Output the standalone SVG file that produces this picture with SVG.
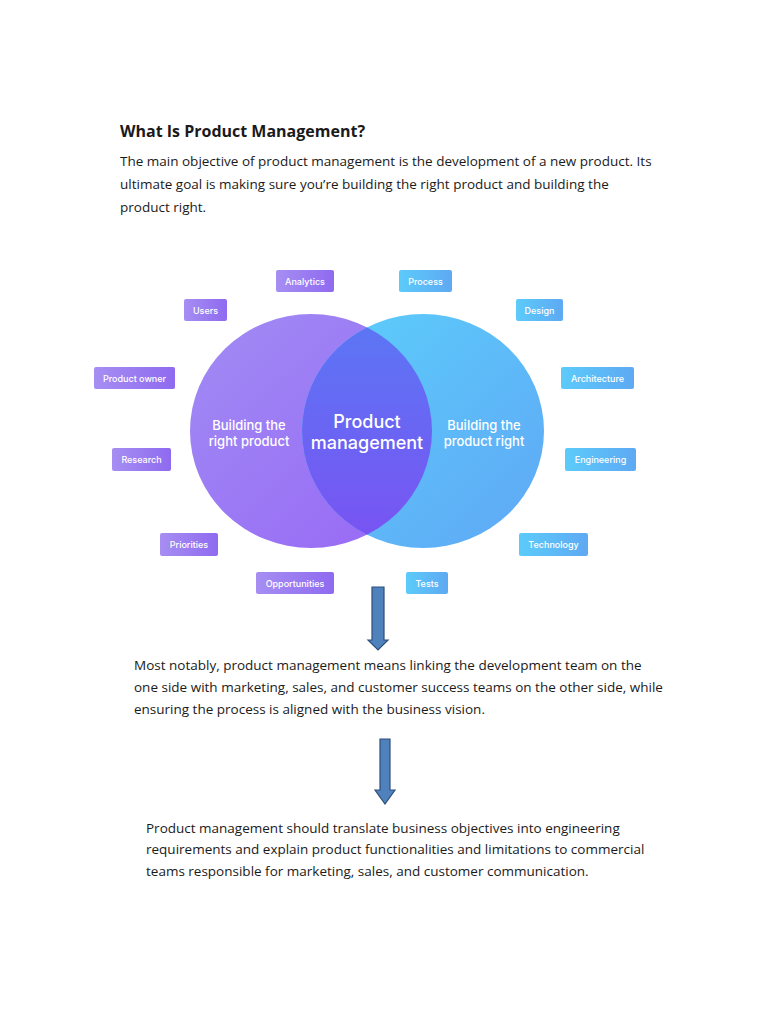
<svg xmlns="http://www.w3.org/2000/svg" width="768" height="1024" viewBox="0 0 768 1024">
<style>
.t{font-family:"Open Sans","Liberation Sans",sans-serif;fill:#1a1a1a;font-size:13.5px}
.h{font-family:"Open Sans","Liberation Sans",sans-serif;fill:#1a1a1a;font-size:16px;font-weight:bold}
.tag{font-family:"Inter","Liberation Sans",sans-serif;fill:#fff;font-size:9px;font-weight:500;text-anchor:middle}
.big{font-family:"Inter","Liberation Sans",sans-serif;fill:#fff;font-weight:500;text-anchor:middle}
.arr{fill:#4f81bd;stroke:#2f4f7a;stroke-width:1.2}
</style>
<defs>
<linearGradient id="gl" x1="0" y1="0" x2="1" y2="1"><stop offset="0" stop-color="#a08cf4"/><stop offset="1" stop-color="#9867f5"/></linearGradient>
<linearGradient id="gr" x1="0" y1="0" x2="1" y2="1"><stop offset="0" stop-color="#5ccffb"/><stop offset="1" stop-color="#5fa7f5"/></linearGradient>
<linearGradient id="gp" x1="0" y1="0" x2="1" y2="0"><stop offset="0" stop-color="#a68ef2"/><stop offset="1" stop-color="#8f6af0"/></linearGradient>
<linearGradient id="gb" x1="0" y1="0" x2="1" y2="0"><stop offset="0" stop-color="#5ccbfa"/><stop offset="1" stop-color="#5ea9f3"/></linearGradient>
<linearGradient id="gm" x1="0" y1="0" x2="0" y2="1"><stop offset="0" stop-color="#5a78f5"/><stop offset="1" stop-color="#7a52f2"/></linearGradient>
<clipPath id="cl"><ellipse cx="311" cy="431" rx="121" ry="117"/></clipPath>
</defs>
<rect width="768" height="1024" fill="#fff"/>
<text class="h" x="120" y="137">What Is Product Management?</text>
<text class="t" x="120" y="166">The main objective of product management is the development of a new product. Its</text>
<text class="t" x="120" y="189">ultimate goal is making sure you’re building the right product and building the</text>
<text class="t" x="120" y="212">product right.</text>
<g id="venn">
<ellipse cx="311" cy="431" rx="121" ry="117" fill="url(#gl)"/>
<ellipse cx="423" cy="431" rx="121" ry="117" fill="url(#gr)"/>
<ellipse cx="423" cy="431" rx="121" ry="117" fill="url(#gm)" clip-path="url(#cl)"/>
<text class="big" x="249" y="430" font-size="13">Building the</text>
<text class="big" x="249" y="446" font-size="13">right product</text>
<text class="big" x="367" y="428" font-size="18">Product</text>
<text class="big" x="367" y="449" font-size="18">management</text>
<text class="big" x="484" y="430" font-size="13">Building the</text>
<text class="big" x="484" y="446" font-size="13">product right</text>
</g>
<g id="tags-left" fill="url(#gp)">
<g id="analytics"><rect x="276" y="270" width="58" height="22" rx="2"/><text class="tag" x="305" y="284.5">Analytics</text></g>
<g id="users"><rect x="184" y="299" width="43" height="22" rx="2"/><text class="tag" x="205.5" y="313.5">Users</text></g>
<g id="product-owner"><rect x="94" y="367" width="81" height="22" rx="2"/><text class="tag" x="134.5" y="381.5">Product owner</text></g>
<g id="research"><rect x="112" y="448" width="59" height="23" rx="2"/><text class="tag" x="141.5" y="463">Research</text></g>
<g id="priorities"><rect x="160" y="533" width="58" height="23" rx="2"/><text class="tag" x="189" y="548">Priorities</text></g>
<g id="opportunities"><rect x="256" y="572" width="78" height="22" rx="2"/><text class="tag" x="295" y="586.5">Opportunities</text></g>
</g>
<g id="tags-right" fill="url(#gb)">
<g id="process"><rect x="399" y="270" width="53" height="22" rx="2"/><text class="tag" x="425.5" y="284.5">Process</text></g>
<g id="design"><rect x="516" y="299" width="47" height="22" rx="2"/><text class="tag" x="539.5" y="313.5">Design</text></g>
<g id="architecture"><rect x="561" y="367" width="73" height="22" rx="2"/><text class="tag" x="597.5" y="381.5">Architecture</text></g>
<g id="engineering"><rect x="565" y="448" width="71" height="23" rx="2"/><text class="tag" x="600.5" y="463">Engineering</text></g>
<g id="technology"><rect x="519" y="533" width="69" height="23" rx="2"/><text class="tag" x="553.5" y="548">Technology</text></g>
<g id="tests"><rect x="406" y="572" width="42" height="22" rx="2"/><text class="tag" x="427" y="586.5">Tests</text></g>
</g>
<g id="connectors">
<path class="arr" d="M372 587 H384 V640 H388 L378 650 L368 640 H372 Z"/>
<path class="arr" d="M380 739 H390 V790 H395 L385 804 L375 790 H380 Z"/>
</g>
<text class="t" x="134" y="670">Most notably, product management means linking the development team on the</text>
<text class="t" x="134" y="692">one side with marketing, sales, and customer success teams on the other side, while</text>
<text class="t" x="134" y="714">ensuring the process is aligned with the business vision.</text>
<text class="t" x="146" y="833">Product management should translate business objectives into engineering</text>
<text class="t" x="146" y="854">requirements and explain product functionalities and limitations to commercial</text>
<text class="t" x="146" y="876">teams responsible for marketing, sales, and customer communication.</text>
</svg>
